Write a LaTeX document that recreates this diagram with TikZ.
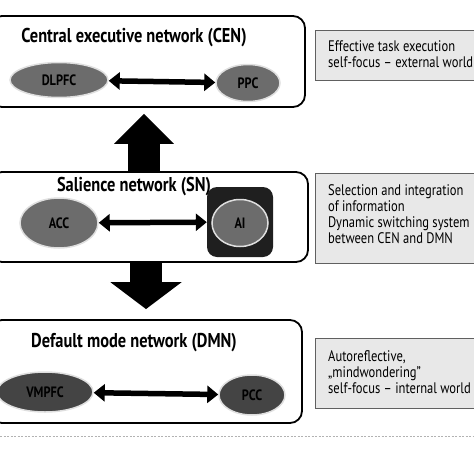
\documentclass[tikz,border=0pt]{standalone}
\usepackage{fontspec}
\setmainfont[FakeStretch=0.82]{PT Sans}
\usetikzlibrary{shapes.geometric,arrows.meta}
\definecolor{lobegray}{HTML}{6C6C6C}
\definecolor{lobedark}{HTML}{444444}
\definecolor{notefill}{HTML}{E8E8E8}
\begin{document}
\begin{tikzpicture}[x=1pt,y=-1pt,
	netbox/.style={draw=black,line width=1.8pt,rounded corners=12pt,inner sep=0pt},
	nettitle/.style={font=\fontsize{20}{22}\selectfont\bfseries,inner sep=0pt},
	lobe/.style={ellipse,fill=lobegray,draw=gray!25,line width=1.5pt,inner sep=0pt,font=\fontsize{15}{17}\selectfont\bfseries},
	notebox/.style={draw=gray!75!black,line width=1.2pt,fill=notefill,inner sep=0pt,anchor=north west},
	notetext/.style={anchor=north west,align=left,inner sep=0pt,font=\fontsize{15.3}{16}\selectfont},
	link/.style={line width=5.5pt,{Triangle[width=17pt,length=11pt]}-{Triangle[width=17pt,length=11pt]}}]
	\useasboundingbox (0,0) rectangle (474,474);
	\clip (0,0) rectangle (474,474);
	
	% networks
	\node[netbox,minimum width=315pt,minimum height=91pt] (cen) at (147.5,61.5) {};
	\node[netbox,minimum width=318pt,minimum height=90pt] (sn) at (149,217) {};
	\node[netbox,minimum width=312pt,minimum height=103pt] (dmn) at (146,371.5) {};
	\node[nettitle] (centitle) at (134,38) {Central executive network (CEN)};
	\node[nettitle] (sntitle) at (134,187) {Salience network (SN)};
	\node[nettitle] (dmntitle) at (134,343) {Default mode network (DMN)};
	
	% regions
	\node[lobe,minimum width=98pt,minimum height=35pt] (dlpfc) at (59,80) {DLPFC};
	\node[lobe,minimum width=64pt,minimum height=37pt] (ppc) at (248,83) {PPC};
	\node[lobe,minimum width=78pt,minimum height=50pt] (acc) at (59,223) {ACC};
	\node[fill=black!88,rounded corners=10pt,minimum width=66pt,minimum height=70pt] (aibox) at (240,222) {};
	\node[lobe,minimum width=56pt,minimum height=47pt] (ai) at (240,223) {AI};
	\node[lobe,fill=lobedark,minimum width=96pt,minimum height=40pt] (vmpfc) at (45,392) {VMPFC};
	\node[lobe,fill=lobedark,minimum width=66pt,minimum height=40pt] (pcc) at (252,395) {PCC};
	
	\draw[link] (dlpfc) -- (ppc);
	\draw[link] (acc) -- (aibox);
	\draw[link] (vmpfc) -- (pcc);
	
	% switching arrows
	\draw[line width=32pt,-{Triangle[width=58pt,length=30pt]},shorten >=6pt] (sn.north -| 144,0) -- (cen.south -| 144,0);
	\draw[line width=32pt,-{Triangle[width=70pt,length=27pt]},shorten >=10pt] (sn.south -| 146,0) -- (dmn.north -| 146,0);
	
	% notes
	\node[notebox,minimum width=170pt,minimum height=50pt] (cennote) at (315,30) {};
	\node[notetext] at (328,40) {Effective task execution\\self-focus -- external world};
	\node[notebox,minimum width=170pt,minimum height=90pt] (snnote) at (315,173) {};
	\node[notetext] at (328,184) {Selection and integration\\of information\\Dynamic switching system\\between CEN and DMN};
	\node[notebox,minimum width=170pt,minimum height=70pt] (dmnnote) at (315,338) {};
	\node[notetext] at (328,350) {Autoreflective,\\„mindwondering”\\self-focus -- internal world};
	
	\draw[gray!60,dash pattern=on 2pt off 1.5pt,line width=0.8pt] (0,436) -- (474,436);
\end{tikzpicture}
\end{document}
